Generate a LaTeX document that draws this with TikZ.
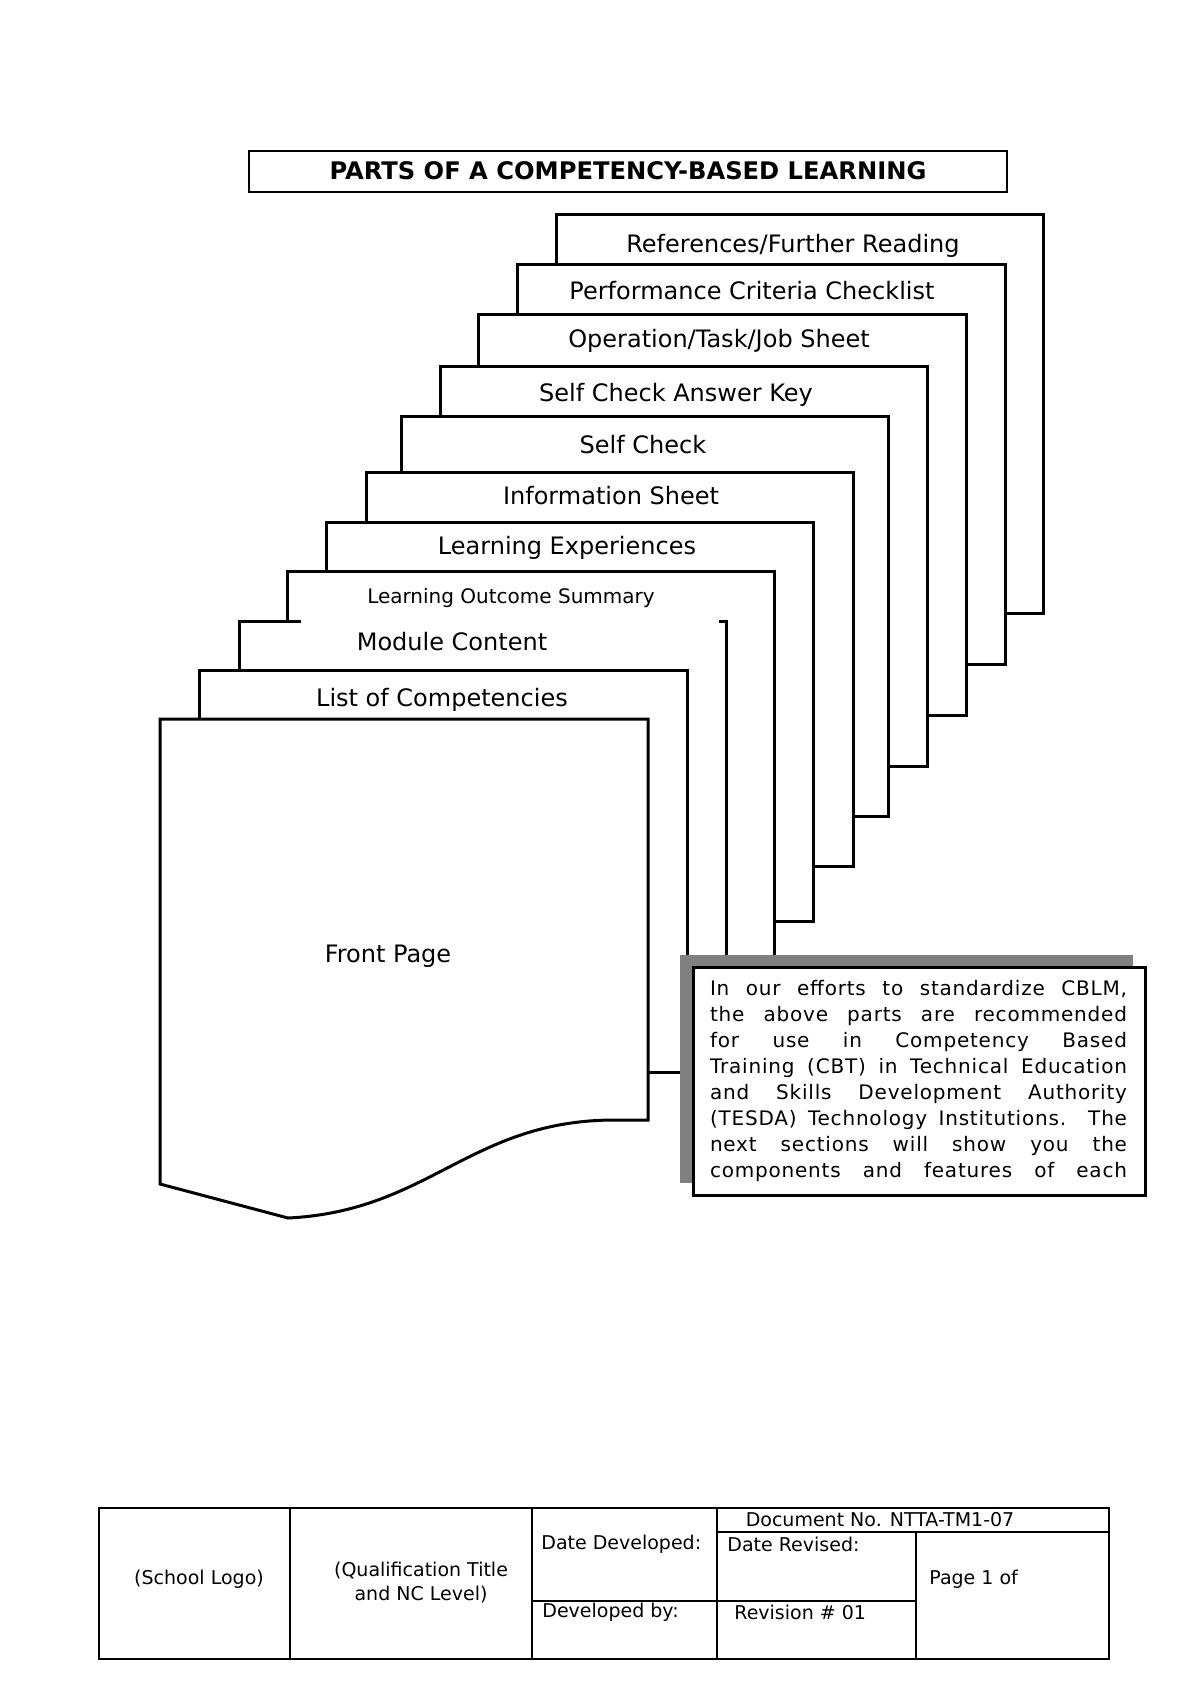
\documentclass[tikz,border=0pt]{standalone}
\usepackage{fontspec}
\setmainfont{DejaVu Sans}
\newfontfamily\notefont[LetterSpace=4]{DejaVu Sans}
\begin{document}
\begin{tikzpicture}[x=0.5pt,y=-0.5pt,
  pg/.style={draw=black,line width=1.5pt,fill=white},
  pgline/.style={draw=black,line width=1.5pt},
  lbl/.style={font=\fontsize{12}{14}\selectfont,inner sep=0pt,anchor=base},
  ftxt/.style={font=\fontsize{9.5}{12}\selectfont,inner sep=0pt},
  tbl/.style={draw=black,line width=0.8pt}]
\useasboundingbox[fill=white] (0,0) rectangle (1200,1698);

% title
\node[draw,line width=1pt,minimum width=379pt,minimum height=20.5pt,inner sep=0pt,
  font=\fontsize{12.1}{14}\bfseries\selectfont] (title) at (628,171) {PARTS OF A COMPETENCY-BASED LEARNING};

% pages, back to front
\path[pg] (556,613) -- (556,214) -- (1043,214) -- (1043,613) -- (1005,613);
\node[lbl] (p1) at (793,252) {References/Further Reading};
\path[pg] (517,664) -- (517,264) -- (1005,264) -- (1005,664) -- (966,664);
\node[lbl] (p2) at (752,299) {Performance Criteria Checklist};
\path[pg] (478,715) -- (478,314) -- (966,314) -- (966,715) -- (927,715);
\node[lbl] (p3) at (719,347) {Operation/Task/Job Sheet};
\path[pg] (440,766) -- (440,366) -- (927,366) -- (927,766) -- (888,766);
\node[lbl] (p4) at (676,401) {Self Check Answer Key};
\path[pg] (401,816) -- (401,416) -- (888,416) -- (888,816) -- (853,816);
\node[lbl] (p5) at (643,453) {Self Check};
\path[pg] (366,866) -- (366,472) -- (853,472) -- (853,866) -- (813,866);
\node[lbl] (p6) at (611,504) {Information Sheet};
\path[pg] (326,921) -- (326,522) -- (813,522) -- (813,921) -- (774,921);
\node[lbl] (p7) at (567,554) {Learning Experiences};
\path[pg] (287,960) -- (287,571) -- (774,571) -- (774,960);
\node[lbl,font=\fontsize{10}{12}\selectfont] (p8) at (511,603) {Learning Outcome Summary};
% module content page (top edge partly hidden)
\fill[white] (239,621) rectangle (726,960);
\draw[pgline] (239,670) -- (239,621) -- (301,621);
\draw[pgline] (719,621) -- (726,621) -- (726,960);
\node[lbl] (p9) at (452,650) {Module Content};
\path[pg] (199,1072) -- (199,670) -- (687,670) -- (687,1072) -- (648,1072);
\node[lbl] (p10) at (442,706) {List of Competencies};
% front page
\path[pg] (615,1120) .. controls (470,1120) and (430,1211) .. (288,1218)
  -- (160,1184) -- (160,719) -- (648,719) -- (648,1120) -- cycle;
\node[lbl] (p11) at (388,962) {Front Page};

% callout
\fill[black!50] (680,955) rectangle (1133,1183);
\node[draw,fill=white,line width=1.5pt,minimum width=226pt,minimum height=114pt,inner sep=0pt] (note) at (919,1081) {};
\node[inner sep=0pt,align=left,font=\notefont\fontsize{10}{13}\selectfont] (notetext) at (918.5,1081) {%
\makebox[208.5pt][s]{In our efforts to standardize CBLM,}\\
\makebox[208.5pt][s]{the above parts are recommended}\\
\makebox[208.5pt][s]{for use in Competency Based}\\
\makebox[208.5pt][s]{Training (CBT) in Technical Education}\\
\makebox[208.5pt][s]{and Skills Development Authority}\\
\makebox[208.5pt][s]{(TESDA) Technology Institutions. The}\\
\makebox[208.5pt][s]{next sections will show you the}\\
\makebox[208.5pt][s]{components and features of each}};

% footer table
\draw[line width=1.2pt] (99,1508) rectangle (1109,1659);
\draw[tbl] (290,1508) -- (290,1659);
\draw[tbl] (532,1508) -- (532,1659);
\draw[tbl] (717,1508) -- (717,1659);
\draw[line width=1.2pt] (717,1532) -- (1109,1532);
\draw[tbl] (916,1532) -- (916,1659);
\draw[tbl] (532,1601) -- (916,1601);
\node[ftxt] (f1) at (199,1579) {(School Logo)};
\node[ftxt,align=center] (f2) at (421,1583) {(Qualification Title\\and NC Level)};
\node[ftxt,anchor=west] (f3) at (541,1544) {Date Developed:};
\node[ftxt,anchor=west] (f4) at (542,1612) {Developed by:};
\node[ftxt] (f5) at (880,1520) {Document No. NTTA-TM1-07};
\node[ftxt,anchor=west] (f6) at (727,1544) {Date Revised:};
\node[ftxt,anchor=west] (f7) at (734,1612) {Revision \# 01};
\node[ftxt,anchor=west] (f8) at (929,1579) {Page 1 of};
\end{tikzpicture}
\end{document}
